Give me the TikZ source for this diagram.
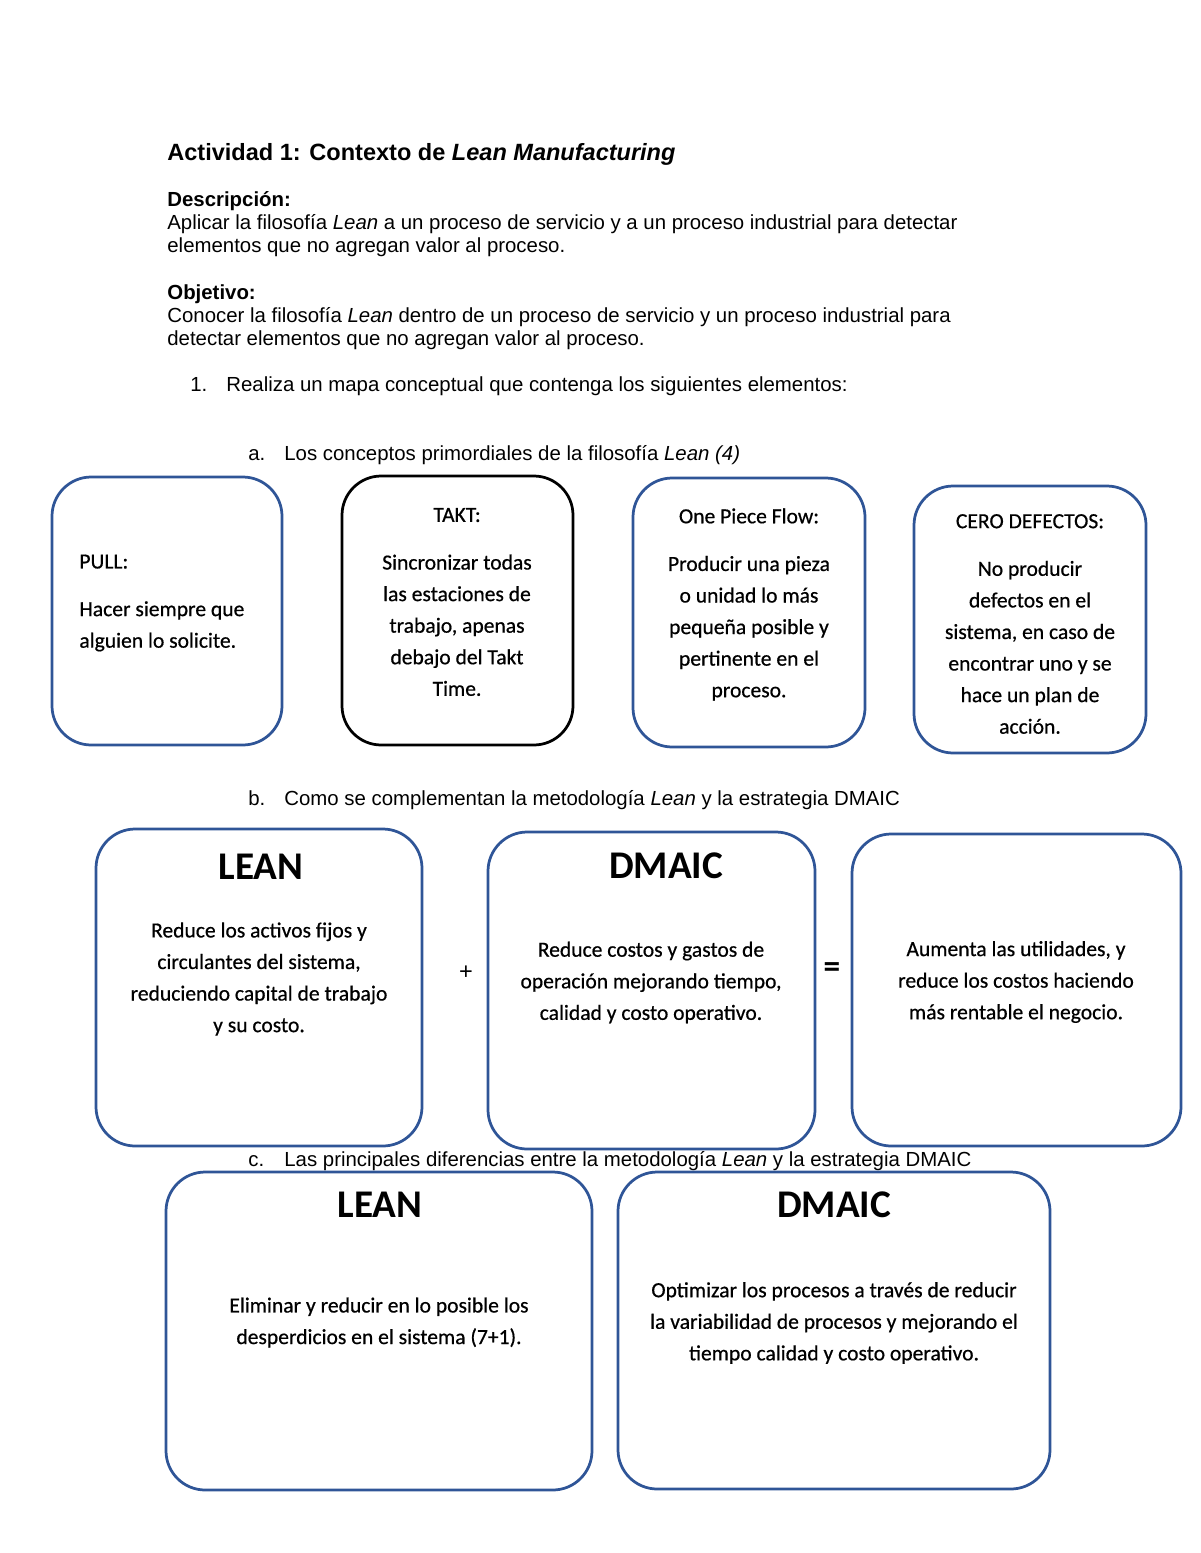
\documentclass[tikz,border=0pt]{standalone}
\usepackage{fontspec}
\setmainfont{Liberation Sans}
\newfontfamily\calfont{Carlito}
\newfontfamily\calmed[FakeBold=0.6]{Carlito}
\definecolor{boxblue}{RGB}{47,85,151}
\begin{document}
\begin{tikzpicture}[x=0.51pt,y=-0.51pt,
  hdr/.style={anchor=base west, inner sep=0pt, font=\fontsize{10.4}{12}\selectfont},
  cardbox/.style args={#1/#2}{draw=boxblue, line width=1.4pt, rounded corners=20pt,
     inner sep=0pt, minimum width=#1*0.51pt, minimum height=#2*0.51pt},
  blackbox/.style={draw=black},
  cardtxt/.style={inner sep=0pt, align=center, font=\calmed\fontsize{11}{16.1}\selectfont},
  cardhead/.style={inner sep=0pt, font=\calfont\bfseries\fontsize{20}{24}\selectfont}
]
\useasboundingbox (0,0) rectangle (1200,1553);

% header text
\node[hdr, font=\bfseries\fontsize{12}{14}\selectfont] (title) at (167,161)
  {Actividad 1: Contexto de \textit{Lean Manufacturing}};
\node[hdr, font=\bfseries\fontsize{10.4}{12}\selectfont] (desc) at (167,207) {Descripción:};
\node[hdr] (desc1) at (167,230) {Aplicar la filosofía \textit{Lean} a un proceso de servicio y a un proceso industrial para detectar};
\node[hdr] (desc2) at (167,253) {elementos que no agregan valor al proceso.};
\node[hdr, font=\bfseries\fontsize{10.4}{12}\selectfont] (obj) at (167,299) {Objetivo:};
\node[hdr] (obj1) at (167,322) {Conocer la filosofía \textit{Lean} dentro de un proceso de servicio y un proceso industrial para};
\node[hdr] (obj2) at (167,345) {detectar elementos que no agregan valor al proceso.};
\node[hdr] (n1) at (190,391) {1.};
\node[hdr] (n1t) at (226,391) {Realiza un mapa conceptual que contenga los siguientes elementos:};
\node[hdr] (na) at (248,460) {a.};
\node[hdr] (nat) at (284,460) {Los conceptos primordiales de la filosofía \textit{Lean (4)}};
\node[hdr] (nb) at (248,805) {b.};
\node[hdr] (nbt) at (284,805) {Como se complementan la metodología \textit{Lean} y la estrategia DMAIC};
\node[hdr] (nc) at (248,1166) {c.};
\node[hdr] (nct) at (284,1166) {Las principales diferencias entre la metodología \textit{Lean} y la estrategia DMAIC};

% row a
\node[cardbox=230/268] (pull) at (167,611) {};
\node[cardbox=231/269, blackbox] (takt) at (457.5,610.5) {};
\node[cardbox=232/269] (opf) at (749,612.5) {};
\node[cardbox=232/267] (cero) at (1030,619.5) {};

\node[cardtxt, align=left, anchor=west] (pullt) at (79,603)
  {PULL:\\[8.2pt]Hacer siempre que\\alguien lo solicite.};
\node[cardtxt] (taktt) at (457,602)
  {TAKT:\\[8.2pt]Sincronizar todas\\las estaciones de\\trabajo, apenas\\debajo del Takt\\Time.};
\node[cardtxt] (opft) at (749,604.5)
  {One Piece Flow:\\[8.2pt]Producir una pieza\\o unidad lo más\\pequeña posible y\\pertinente en el\\proceso.};
\node[cardtxt] (cerot) at (1030,624)
  {CERO DEFECTOS:\\[8.2pt]No producir\\defectos en el\\sistema, en caso de\\encontrar uno y se\\hace un plan de\\acción.};

% row b
\node[cardbox=326/317] (leanb) at (259,987.5) {};
\node[cardbox=327/317] (dmaicb) at (651.5,990.5) {};
\node[cardbox=329/312] (resb) at (1016.5,990) {};

\node[cardhead] (leanbh) at (261,867) {LEAN};
\node[cardtxt] (leanbt) at (259,979)
  {Reduce los activos fijos y\\circulantes del sistema,\\reduciendo capital de trabajo\\y su costo.};
\node[cardhead] (dmaicbh) at (666,866) {DMAIC};
\node[cardtxt] (dmaicbt) at (651,982.5)
  {Reduce costos y gastos de\\operación mejorando tiempo,\\calidad y costo operativo.};
\node[cardtxt] (resbt) at (1016,982)
  {Aumenta las utilidades, y\\reduce los costos haciendo\\más rentable el negocio.};
\node[inner sep=0pt, font=\fontsize{12}{14}\selectfont] (plus) at (466,973) {+};
\node[inner sep=0pt, font=\calfont\bfseries\fontsize{17}{18}\selectfont] (eq) at (832,970) {=};

% row c
\node[cardbox=426/318] (leanc) at (379,1331) {};
\node[cardbox=432/317] (dmaicc) at (834,1330.5) {};

\node[cardhead] (leanch) at (380,1205) {LEAN};
\node[cardtxt] (leanct) at (379,1322.5)
  {Eliminar y reducir en lo posible los\\desperdicios en el sistema (7+1).};
\node[cardhead] (dmaicch) at (834,1205) {DMAIC};
\node[cardtxt] (dmaicct) at (834,1323)
  {Optimizar los procesos a través de reducir\\la variabilidad de procesos y mejorando el\\tiempo calidad y costo operativo.};
\end{tikzpicture}
\end{document}
